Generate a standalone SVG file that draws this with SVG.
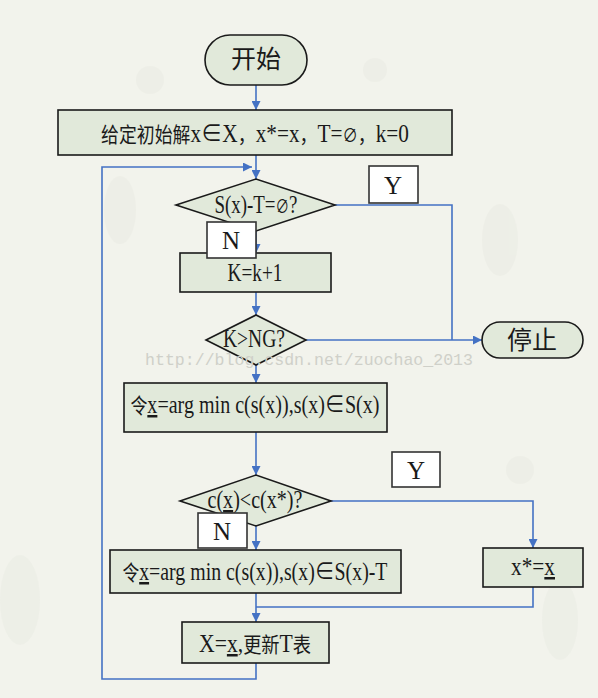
<svg xmlns="http://www.w3.org/2000/svg" width="598" height="698" viewBox="0 0 598 698">
<defs>
<marker id="arr" viewBox="0 0 10 10" refX="10" refY="5" markerWidth="9" markerHeight="9" markerUnits="userSpaceOnUse" orient="auto">
<path d="M0,0 L10,5 L0,10 z" fill="#4472c4"/>
</marker>
</defs>
<style>
.bg{fill:#f2f3ec}
.n{fill:#e1e9da;stroke:#1a1a1a;stroke-width:1.6}
.lab{fill:#ffffff;stroke:#333;stroke-width:1.6}
.t{font-family:"Liberation Serif","Noto Sans CJK SC",serif;font-size:25px;fill:#1a1a1a;text-anchor:middle}
.cjk{font-family:"Noto Sans CJK SC",sans-serif}
.c{fill:none;stroke:#4472c4;stroke-width:1.6}
.ca{fill:none;stroke:#4472c4;stroke-width:1.6;marker-end:url(#arr)}
.u{text-decoration:underline}
.wm{font-family:"Liberation Mono",monospace;font-size:17px;fill:#cfd0c9}
</style>
<rect class="bg" x="0" y="0" width="598" height="698"/>
<g opacity="0.35" fill="#e6e7df">
<ellipse cx="120" cy="210" rx="16" ry="34"/>
<ellipse cx="500" cy="240" rx="18" ry="36"/>
<ellipse cx="560" cy="620" rx="18" ry="40"/>
<ellipse cx="20" cy="600" rx="20" ry="45"/>
<circle cx="375" cy="70" r="12"/>
<circle cx="150" cy="80" r="14"/>
<circle cx="520" cy="470" r="14"/>
</g>
<g id="connectors">
<path class="ca" d="M256 85 V110"/>
<path class="ca" d="M256 155 V179"/>
<path class="ca" d="M256 663 V679 H102 V167 H252"/>
<path class="c" d="M335 205 H452 V340"/>
<path class="ca" d="M256 231 V253"/>
<path class="ca" d="M256 292 V315"/>
<path class="ca" d="M306 340 H482"/>
<path class="ca" d="M256 365 V383"/>
<path class="ca" d="M256 432 V475"/>
<path class="ca" d="M331 501 H533 V548"/>
<path class="ca" d="M256 526 V550"/>
<path class="ca" d="M256 593 V622"/>
<path class="c" d="M533 587 V607 H256"/>
</g>
<g id="start">
<rect class="n" x="205" y="35" width="102" height="50" rx="25"/>
<text class="t cjk" x="256" y="68" font-size="21">开始</text>
</g>
<g id="init">
<rect class="n" x="58" y="110" width="394" height="45"/>
<text class="t" x="255" y="142" textLength="308" lengthAdjust="spacingAndGlyphs"><tspan class="cjk" font-size="21">给定初始解</tspan>x∈X<tspan class="cjk" font-size="21">，</tspan>x*=x<tspan class="cjk" font-size="21">，</tspan>T=<tspan font-size="18">∅</tspan><tspan class="cjk" font-size="21">，</tspan>k=0</text>
</g>
<g id="d1">
<polygon class="n" points="176,205 256,179 335,205 256,231"/>
<text class="t" x="256" y="213" textLength="83" lengthAdjust="spacingAndGlyphs">S(x)-T=<tspan font-size="18">∅</tspan>?</text>
</g>
<g id="k">
<rect class="n" x="180" y="253" width="151" height="39"/>
<text class="t" x="255" y="281" textLength="55" lengthAdjust="spacingAndGlyphs">K=k+1</text>
</g>
<g id="d2">
<polygon class="n" points="206,340 256,315 306,340 256,365"/>
<text class="t" x="254" y="347" textLength="62" lengthAdjust="spacingAndGlyphs">K&gt;NG?</text>
</g>
<g id="stop">
<rect class="n" x="482" y="322" width="101" height="36" rx="18"/>
<text class="t cjk" x="532" y="349" font-size="24">停止</text>
</g>
<g id="box3">
<rect class="n" x="124" y="383" width="263" height="49"/>
<text class="t" x="255" y="413" textLength="249" lengthAdjust="spacingAndGlyphs"><tspan class="cjk" font-size="21">令</tspan><tspan class="u">x</tspan>=arg min c(s(x)),s(x)∈S(x)</text>
</g>
<g id="d3">
<polygon class="n" points="180,501 256,475 331,501 256,526"/>
<text class="t" x="255" y="508" textLength="95" lengthAdjust="spacingAndGlyphs">c(<tspan class="u">x</tspan>)&lt;c(x*)?</text>
</g>
<g id="box4">
<rect class="n" x="110" y="550" width="291" height="43"/>
<text class="t" x="255" y="580" textLength="265" lengthAdjust="spacingAndGlyphs"><tspan class="cjk" font-size="21">令</tspan><tspan class="u">x</tspan>=arg min c(s(x)),s(x)∈S(x)-T</text>
</g>
<g id="best">
<rect class="n" x="483" y="548" width="100" height="39"/>
<text class="t" x="533" y="575" textLength="44" lengthAdjust="spacingAndGlyphs">x*=<tspan class="u">x</tspan></text>
</g>
<g id="upd">
<rect class="n" x="182" y="622" width="147" height="41"/>
<text class="t" x="255" y="652" textLength="112" lengthAdjust="spacingAndGlyphs">X=<tspan class="u">x</tspan>,<tspan class="cjk" font-size="21">更新</tspan>T<tspan class="cjk" font-size="21">表</tspan></text>
</g>
<g id="y1">
<rect class="lab" x="369" y="166" width="49" height="37"/>
<text class="t" x="393" y="194" font-size="24">Y</text>
</g>
<g id="n1">
<rect class="lab" x="207" y="222" width="49" height="36"/>
<text class="t" x="231" y="249" font-size="24">N</text>
</g>
<g id="y2">
<rect class="lab" x="392" y="452" width="48" height="35"/>
<text class="t" x="416" y="479" font-size="24">Y</text>
</g>
<g id="n2">
<rect class="lab" x="198" y="513" width="49" height="35"/>
<text class="t" x="222" y="540" font-size="24">N</text>
</g>
<text class="wm" x="145" y="365" textLength="328" lengthAdjust="spacingAndGlyphs">http://blog.csdn.net/zuochao_2013</text>
</svg>
